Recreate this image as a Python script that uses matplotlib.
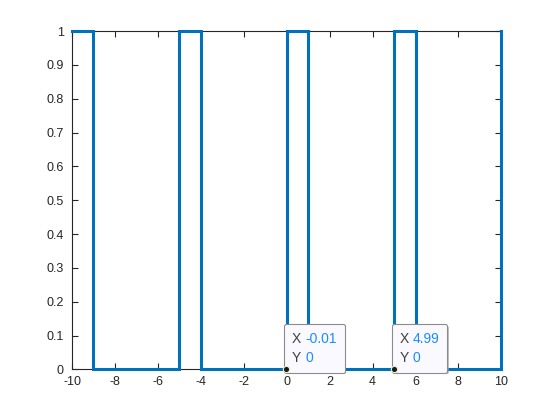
import matplotlib.pyplot as plt
import matplotlib.patheffects as pe
from matplotlib.offsetbox import AnnotationBbox, TextArea, HPacker, VPacker

# Square wave corners (pulse train)
x_vals = [-10, -9, -9, -5, -5, -4, -4, 0, 0, 1, 1, 5, 5, 6, 6, 10, 10]
y_vals = [1, 1, 0, 0, 1, 1, 0, 0, 1, 1, 0, 0, 1, 1, 0, 0, 1]

# Data tips
tip_x = [-0.01, 4.99]
tip_y = [0, 0]
tip_xlabels = ['-0.01', '4.99']
tip_ylabels = ['0', '0']

x_ticks = list(range(-10, 11, 2))
y_ticks = [0, 0.1, 0.2, 0.3, 0.4, 0.5, 0.6, 0.7, 0.8, 0.9, 1]
y_ticklabels = ['0', '0.1', '0.2', '0.3', '0.4', '0.5', '0.6', '0.7', '0.8', '0.9', '1']

plt.rcParams['font.family'] = ['Liberation Sans', 'DejaVu Sans']
plt.rcParams['axes.unicode_minus'] = False

AX_COLOR = '#262626'
LINE_COLOR = '#0072BD'
TIP_BLUE = '#1a8cff'

fig = plt.figure(figsize=(5.54, 4.15), dpi=100)
ax = fig.add_axes([0.13, 0.11, 0.775, 0.815])

ax.plot(x_vals, y_vals, color=LINE_COLOR, linewidth=2.2, solid_joinstyle='miter', clip_on=False, zorder=3)

ax.set_xlim(-10, 10)
ax.set_ylim(0, 1)
ax.set_xticks(x_ticks)
ax.set_yticks(y_ticks)
ax.set_yticklabels(y_ticklabels)
ax.tick_params(direction='in', length=4, width=0.8, colors=AX_COLOR, labelsize=9,
               top=True, right=True)
ax.tick_params(axis='x', pad=5)
ax.tick_params(axis='y', pad=6)
for s in ax.spines.values():
    s.set_color(AX_COLOR)
    s.set_linewidth(0.8)

# data tips
for tx, ty, lx, ly in zip(tip_x, tip_y, tip_xlabels, tip_ylabels):
    row_x = HPacker(children=[TextArea('X', textprops=dict(color='#404040', fontsize=10)),
                              TextArea(lx, textprops=dict(color=TIP_BLUE, fontsize=10))],
                    pad=0, sep=3)
    row_y = HPacker(children=[TextArea('Y', textprops=dict(color='#404040', fontsize=10)),
                              TextArea(ly, textprops=dict(color=TIP_BLUE, fontsize=10))],
                    pad=0, sep=3)
    box = VPacker(children=[row_x, row_y], pad=0, sep=4, align='left')
    ab = AnnotationBbox(box, (tx, ty), xybox=(4, 3), xycoords='data', boxcoords='offset points',
                        box_alignment=(0, 0), pad=0.5, frameon=True,
                        bboxprops=dict(boxstyle='round,pad=0.55,rounding_size=0.15',
                                       facecolor='#f9f9ff', edgecolor='#8c8c8c', linewidth=0.8),
                        zorder=5, annotation_clip=False)
    ab.patch.set_path_effects([pe.SimplePatchShadow(offset=(1.2, -1.2), shadow_rgbFace='#999999', alpha=0.6),
                               pe.Normal()])
    ax.add_artist(ab)
    ax.plot([tx], [ty], marker='o', markersize=4.5, markerfacecolor='#1a1a1a',
            markeredgecolor='#f0f0c8', markeredgewidth=0.8, clip_on=False, zorder=6)

fig.savefig('out.png', dpi=100, facecolor='white')
